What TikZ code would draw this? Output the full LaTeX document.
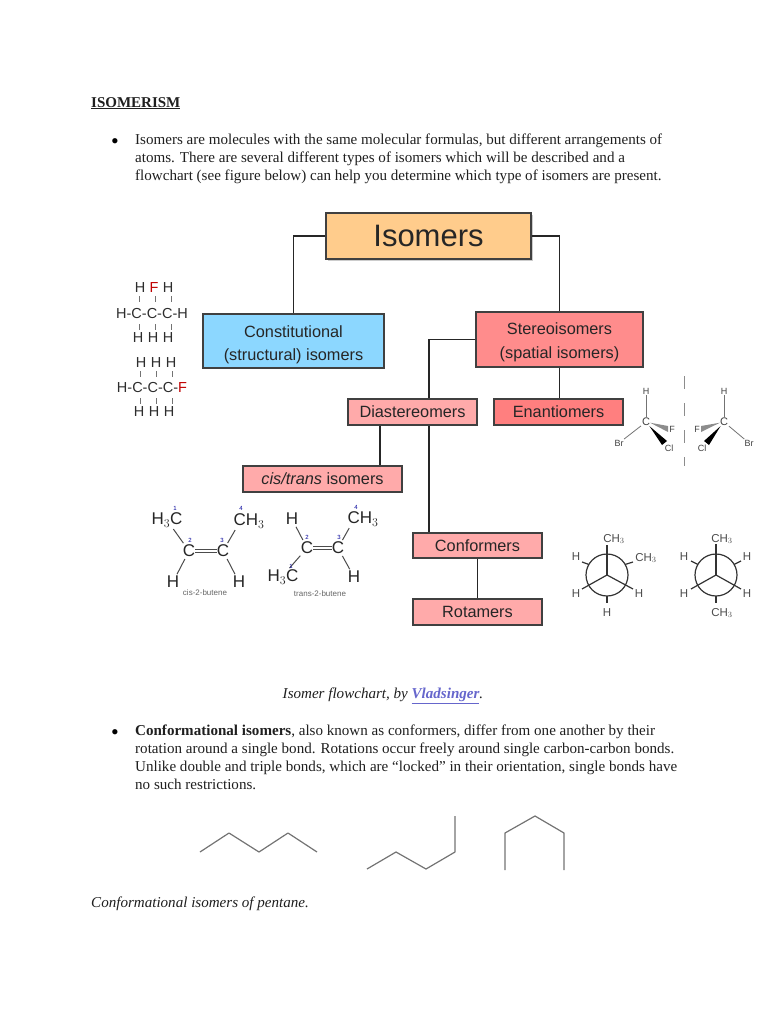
\documentclass[tikz,border=0pt]{standalone}
\usepackage{fontspec}
\setmainfont{Liberation Serif}
\setsansfont{Liberation Sans}
\usetikzlibrary{shadows}
\definecolor{linkblue}{RGB}{102,102,204}
\definecolor{isoorange}{RGB}{255,204,140}
\definecolor{conblue}{RGB}{140,215,255}
\definecolor{sterred}{RGB}{255,140,140}
\definecolor{enared}{RGB}{255,127,127}
\definecolor{diapink}{RGB}{255,170,170}
\definecolor{atomgray}{RGB}{45,45,45}
\tikzset{
  para/.style={anchor=north west,inner sep=0pt,align=left,text=black!88,font=\fontsize{15.07}{18}\selectfont},
  dot/.style={anchor=center,inner sep=0pt,text=black,font=\fontsize{22}{22}\selectfont},
  chartbox/.style={draw=black!75,line width=1.3pt,inner sep=0pt,align=center,text=black!85,font=\sffamily\fontsize{16.3}{23.2}\selectfont,
    drop shadow={shadow xshift=1pt,shadow yshift=-1pt,opacity=0.35}},
  link/.style={draw=black!85,line width=1.6pt},
  atom/.style={inner sep=0pt,text=atomgray,font=\sffamily\fontsize{14.5}{14.5}\selectfont},
  tick/.style={draw=black!55,line width=0.9pt},
  small/.style={inner sep=0pt,text=black!75,font=\sffamily\fontsize{9}{9}\selectfont},
  bond/.style={draw=black!55,line width=0.8pt,shorten >=1pt,shorten <=1pt},
  butatom/.style={inner sep=0pt,text=black!85,font=\sffamily\fontsize{17}{17}\selectfont},
  butbond/.style={draw=black!70,line width=1pt,shorten >=2pt,shorten <=2pt},
  dblbond/.style={draw=black!70,line width=1pt},
  num/.style={inner sep=0pt,text=blue!60!black,font=\sffamily\fontsize{6}{6}\selectfont},
  butname/.style={inner sep=0pt,text=black!60,font=\sffamily\fontsize{8}{8}\selectfont},
  newatom/.style={inner sep=0pt,text=black!70,font=\sffamily\fontsize{11.5}{11.5}\selectfont},
  newbond/.style={draw=black!80,line width=1.2pt},
  chain/.style={draw=black!55,line width=1.2pt,line join=round},
}
\begin{document}
\begin{tikzpicture}[x=1pt,y=-1pt]
  \useasboundingbox (0,0) rectangle (768,1024);

  % page text
  \node[para,font=\bfseries\fontsize{15}{18}\selectfont] (title) at (91,97) {\underline{ISOMERISM}};
  \node[dot] (bulletone) at (115,143.5) {•};
  \node[para] (parone) at (135,134) {Isomers are molecules with the same molecular formulas, but different arrangements of\\
    atoms. There are several different types of isomers which will be described and a\\
    flowchart (see figure below) can help you determine which type of isomers are present.};
  \node[para,anchor=north] (caption) at (383,688) {\textit{Isomer flowchart, by \textcolor{linkblue}{\textbf{\underline{Vladsinger}}}.}};
  \node[dot] (bullettwo) at (115,734.5) {•};
  \node[para] (partwo) at (135,725) {\textbf{Conformational isomers}, also known as conformers, differ from one another by their\\
    rotation around a single bond. Rotations occur freely around single carbon-carbon bonds.\\
    Unlike double and triple bonds, which are “locked” in their orientation, single bonds have\\
    no such restrictions.};
  \node[para] (pentcap) at (91,897) {\textit{Conformational isomers of pentane.}};

  % flowchart boxes
  \node[chartbox,fill=isoorange,minimum width=205pt,minimum height=46pt,font=\sffamily\fontsize{31}{31}\selectfont,
    drop shadow={shadow xshift=2pt,shadow yshift=-2pt,opacity=0.4}] (isomers) at (428.5,236) {Isomers};
  \node[chartbox,fill=conblue,minimum width=181pt,minimum height=54pt] (constitutional) at (293.5,341) {\rule{0pt}{19pt}Constitutional\\(structural) isomers};
  \node[chartbox,fill=sterred,minimum width=167pt,minimum height=55pt] (stereo) at (559.5,339.5) {\rule{0pt}{17.5pt}Stereoisomers\\(spatial isomers)};
  \node[chartbox,fill=diapink,minimum width=129pt,minimum height=26pt] (diastereo) at (412.5,412) {Diastereomers};
  \node[chartbox,fill=enared,minimum width=129pt,minimum height=26pt] (enantio) at (558.5,412) {Enantiomers};
  \node[chartbox,fill=diapink,minimum width=159pt,minimum height=26pt] (cistrans) at (322.5,479) {\textit{cis/trans} isomers};
  \node[chartbox,fill=diapink,minimum width=129pt,minimum height=25pt] (conformers) at (477.5,545.5) {Conformers};
  \node[chartbox,fill=diapink,minimum width=129pt,minimum height=26pt] (rotamers) at (477.5,612) {Rotamers};

  % connectors
  \draw[link] (isomers.west) -| (constitutional.north);
  \draw[link] (isomers.east) -| (stereo.north);
  \draw[link] (stereo.west) -| ([xshift=16.5pt]diastereo.north);
  \draw[link] (stereo.south) -- (stereo.south |- enantio.north);
  \draw[link] ([xshift=16.5pt]diastereo.south) -- ([xshift=-48.5pt]conformers.north);
  \draw[link] ([xshift=-32.5pt]diastereo.south) -- ([xshift=57.5pt]cistrans.north);
  \draw[link] (conformers.south) -- (rotamers.north);

  % fluoropropanes
  \foreach \x/\l/\c in {140/H/atomgray,154/F/red!75!black,168/H/atomgray}
    \node[atom,text=\c] (ftop\x) at (\x,288) {\l};
  \node[atom] (fmid) at (152,314) {H-C-C-C-H};
  \foreach \x in {138,153,168}
    \node[atom] (fbot\x) at (\x,338) {H};
  \foreach \x in {139,155,171} {
    \draw[tick] (\x,296) -- (\x,302);
    \draw[tick] (\x,324) -- (\x,330);
  }
  \foreach \x in {141,156,171}
    \node[atom] (gtop\x) at (\x,363) {H};
  \node[atom] (gmid) at (152,388) {H-C-C-C-\textcolor{red!75!black}{F}};
  \foreach \x in {139,154,169}
    \node[atom] (gbot\x) at (\x,412) {H};
  \foreach \x in {140,156,172} {
    \draw[tick] (\x,371) -- (\x,377);
    \draw[tick] (\x,398) -- (\x,404);
  }

  % enantiomer pair
  \node[small] (hleft) at (646,391) {H};
  \node[small,font=\sffamily\fontsize{11}{11}\selectfont] (cleft) at (646,422) {C};
  \node[small] (fleft) at (672,429) {F};
  \node[small] (brleft) at (619,443) {Br};
  \node[small] (clleft) at (669,448) {Cl};
  \draw[bond] (hleft) -- (cleft);
  \draw[bond] (brleft) -- (cleft);
  \fill[black!45] (cleft.-10) -- ([shift={(-4,-3)}]fleft.center) -- ([shift={(-4,3)}]fleft.center) -- cycle;
  \fill (cleft.-50) -- ([shift={(-2,-7)}]clleft.center) -- ([shift={(-7,-3)}]clleft.center) -- cycle;
  \node[small] (hright) at (724,391) {H};
  \node[small,font=\sffamily\fontsize{11}{11}\selectfont] (cright) at (724,422) {C};
  \node[small] (fright) at (697,429) {F};
  \node[small] (brright) at (749,443) {Br};
  \node[small] (clright) at (702,448) {Cl};
  \draw[bond] (hright) -- (cright);
  \draw[bond] (brright) -- (cright);
  \fill[black!45] (cright.190) -- ([shift={(4,-3)}]fright.center) -- ([shift={(4,3)}]fright.center) -- cycle;
  \fill (cright.230) -- ([shift={(2,-7)}]clright.center) -- ([shift={(7,-3)}]clright.center) -- cycle;
  \coordinate (mirrortop) at (684,376);
  \coordinate (mirrorbot) at (684,466);
  \draw[draw=black!45,line width=0.8pt,dash pattern=on 13pt off 14pt] (mirrortop) -- (mirrorbot);

  % cis-2-butene
  \node[butatom] (cisme) at (167,520) {H$_3$C};
  \node[butatom] (cisch) at (249,521) {CH$_3$};
  \node[butatom] (cistwo) at (189,551) {C};
  \node[butatom] (cisthree) at (223,551) {C};
  \node[butatom] (cish) at (173,582) {H};
  \node[butatom] (cishh) at (239,582) {H};
  \draw[butbond] (cisme.-55) -- (cistwo);
  \draw[butbond] (cisch.-150) -- (cisthree);
  \draw[butbond] (cistwo) -- (cish);
  \draw[butbond] (cisthree) -- (cishh);
  \draw[dblbond] ([yshift=1.5pt]cistwo.east) -- ([yshift=1.5pt]cisthree.west);
  \draw[dblbond] ([yshift=-1.5pt]cistwo.east) -- ([yshift=-1.5pt]cisthree.west);
  \node[num] (cisnone) at (175,508) {1};
  \node[num] (cisntwo) at (190,540) {2};
  \node[num] (cisnthree) at (222,540) {3};
  \node[num] (cisnfour) at (241,508) {4};
  \node[butname] (cisname) at (205,593) {cis-2-butene};

  % trans-2-butene
  \node[butatom] (transh) at (292,519) {H};
  \node[butatom] (transch) at (363,519) {CH$_3$};
  \node[butatom] (transtwo) at (307,548) {C};
  \node[butatom] (transthree) at (338,548) {C};
  \node[butatom] (transme) at (283,577) {H$_3$C};
  \node[butatom] (transhh) at (354,577) {H};
  \draw[butbond] (transh) -- (transtwo);
  \draw[butbond] (transch.-150) -- (transthree);
  \draw[butbond] (transtwo) -- (transme.55);
  \draw[butbond] (transthree) -- (transhh);
  \draw[dblbond] ([yshift=1.5pt]transtwo.east) -- ([yshift=1.5pt]transthree.west);
  \draw[dblbond] ([yshift=-1.5pt]transtwo.east) -- ([yshift=-1.5pt]transthree.west);
  \node[num] (transnone) at (291,566) {1};
  \node[num] (transntwo) at (307,537) {2};
  \node[num] (transnthree) at (339,537) {3};
  \node[num] (transnfour) at (356,507) {4};
  \node[butname] (transname) at (320,594) {trans-2-butene};

  % Newman projections
  \begin{scope}[shift={(607,575)}]
    \node[newatom] (aone) at (7,-36) {CH$_3$};
    \node[newatom] (atwo) at (39,-17) {CH$_3$};
    \node[newatom] (athree) at (-31,-18) {H};
    \node[newatom] (afour) at (-31,19) {H};
    \node[newatom] (afive) at (32,19) {H};
    \node[newatom] (asix) at (0,38) {H};
    \coordinate (acen) at (0,0);
    \draw[newbond] (acen) circle (21);
    \draw[newbond] (acen) -- (0,-30);
    \draw[newbond] (acen) -- (-25,14);
    \draw[newbond] (acen) -- (26,14);
    \draw[newbond] (18,-10.5) -- (26,-13);
    \draw[newbond] (-18,-10.5) -- (-25,-13);
    \draw[newbond] (0,21) -- (0,28);
  \end{scope}
  \begin{scope}[shift={(716,575)}]
    \node[newatom] (bone) at (6,-36) {CH$_3$};
    \node[newatom] (btwo) at (31,-18) {H};
    \node[newatom] (bthree) at (-32,-18) {H};
    \node[newatom] (bfour) at (-32,19) {H};
    \node[newatom] (bfive) at (31,19) {H};
    \node[newatom] (bsix) at (6,38) {CH$_3$};
    \coordinate (bcen) at (0,0);
    \draw[newbond] (bcen) circle (21);
    \draw[newbond] (bcen) -- (0,-31);
    \draw[newbond] (bcen) -- (-25,14);
    \draw[newbond] (bcen) -- (25,14);
    \draw[newbond] (18,-10.5) -- (25,-14);
    \draw[newbond] (-18,-10.5) -- (-25,-14);
    \draw[newbond] (0,21) -- (0,28);
  \end{scope}

  % pentane skeletons
  \draw[chain] (200,852) -- (229,833) -- (259,852) -- (288,833) -- (317,852);
  \draw[chain] (367,869) -- (396,852) -- (426,869) -- (455,852) -- (455,816);
  \draw[chain] (505,870) -- (505,833) -- (535,816) -- (564,833) -- (564,870);
\end{tikzpicture}
\end{document}
